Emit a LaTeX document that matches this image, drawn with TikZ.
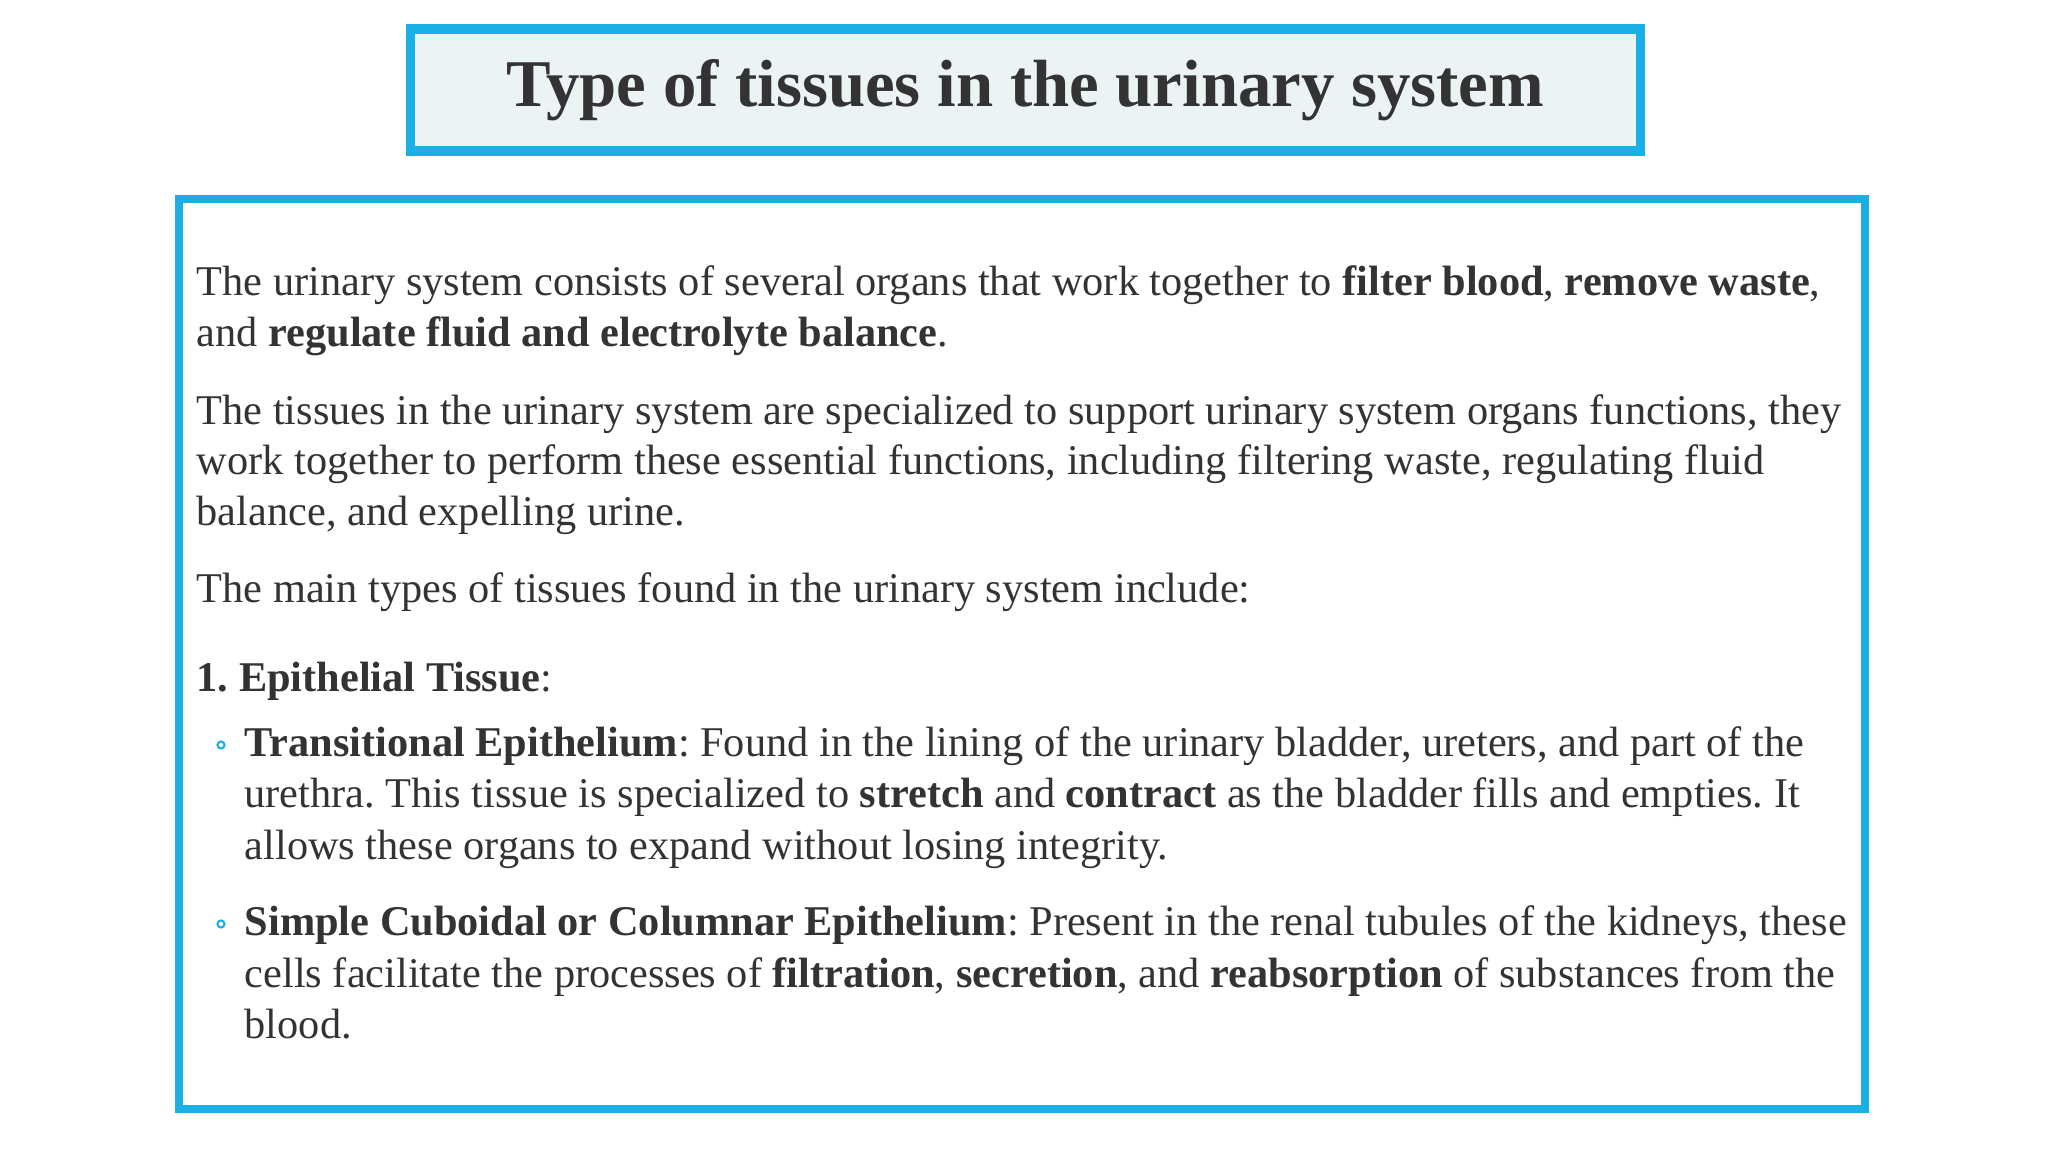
\documentclass[tikz,border=0pt]{standalone}
\usepackage{fontspec}
\setmainfont{Liberation Serif}
\definecolor{bord}{HTML}{1AB0E6}
\definecolor{txt}{HTML}{333333}
\definecolor{tfill}{HTML}{ECF3F4}
\frenchspacing
\begin{document}
\begin{tikzpicture}[x=1cm,y=1cm,
  ln/.style={anchor=base west,inner sep=0pt,text=txt,font=\fontsize{12.05pt}{14pt}\selectfont\frenchspacing},
  bul/.style={circle,draw=bord,line width=0.6pt,inner sep=0pt,minimum size=0.07cm}]
\useasboundingbox (0,0) rectangle (20.48,-11.52);
\fill[white] (0,0) rectangle (20.48,-11.52);
\node[draw=bord,line width=2.6pt,fill=tfill,minimum width=12.3cm,minimum height=1.22cm,text=txt,font=\fontsize{19pt}{23pt}\selectfont\bfseries] (title) at (10.255,-0.9) {Type of tissues in the urinary system};
\node[draw=bord,line width=2.2pt,minimum width=16.86cm,minimum height=9.1cm] (box) at (10.22,-6.54) {};
\node[ln] (l1) at (1.96,-2.96) {The urinary system consists of several organs that work together to \textbf{filter blood}, \textbf{remove waste},};
\node[ln] (l2) at (1.96,-3.47) {and \textbf{regulate fluid and electrolyte balance}.};
\node[ln] (l3) at (1.96,-4.24) {The tissues in the urinary system are specialized to support urinary system organs functions, they};
\node[ln] (l4) at (1.96,-4.75) {work together to perform these essential functions, including filtering waste, regulating fluid};
\node[ln] (l5) at (1.96,-5.26) {balance, and expelling urine.};
\node[ln] (l6) at (1.96,-6.03) {The main types of tissues found in the urinary system include:};
\node[ln] (l7) at (1.96,-6.92) {\textbf{1. Epithelial Tissue}:};
\node[bul] (b1) at (2.21,-7.45) {};
\node[ln] (l8) at (2.44,-7.56) {\textbf{Transitional Epithelium}: Found in the lining of the urinary bladder, ureters, and part of the};
\node[ln] (l9) at (2.44,-8.08) {urethra. This tissue is specialized to \textbf{stretch} and \textbf{contract} as the bladder fills and empties. It};
\node[ln] (l10) at (2.44,-8.59) {allows these organs to expand without losing integrity.};
\node[bul] (b2) at (2.21,-9.24) {};
\node[ln] (l11) at (2.44,-9.35) {\textbf{Simple Cuboidal or Columnar Epithelium}: Present in the renal tubules of the kidneys, these};
\node[ln] (l12) at (2.44,-9.87) {cells facilitate the processes of \textbf{filtration}, \textbf{secretion}, and \textbf{reabsorption} of substances from the};
\node[ln] (l13) at (2.44,-10.38) {blood.};
\end{tikzpicture}
\end{document}
